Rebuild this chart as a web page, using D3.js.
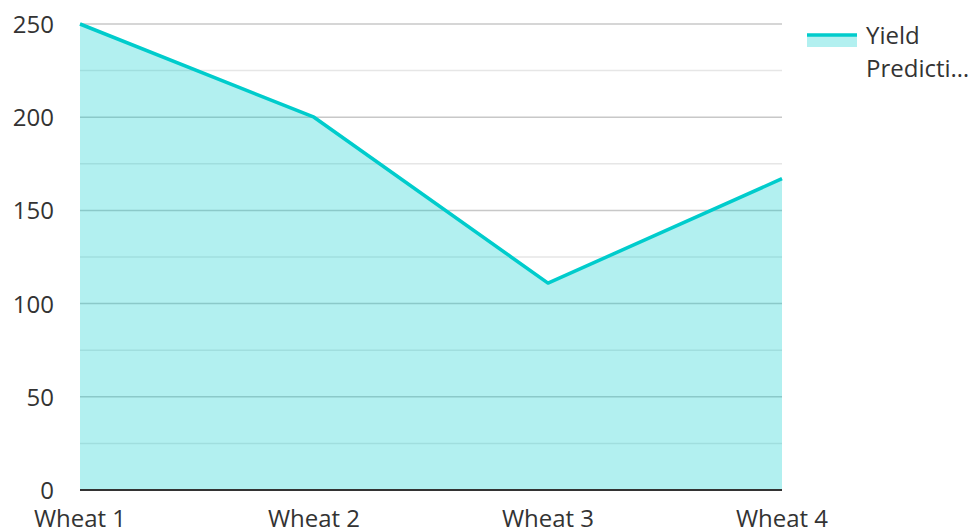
<!DOCTYPE html>
<html>
<head>
<meta charset="utf-8">
<script src="https://cdn.jsdelivr.net/npm/d3@7"></script>
<style>
  body { margin: 0; background: #fff; }
  text { font-family: "Open Sans", sans-serif; fill: #333; }
</style>
</head>
<body>
<div id="chart"></div>
<script>
// data
var categories = ["Wheat 1", "Wheat 2", "Wheat 3", "Wheat 4"];
var yieldValues = [250, 200, 111, 167];
var yTicks = [0, 50, 100, 150, 200, 250];
var minorTicks = [25, 75, 125, 175, 225];
var seriesName = "Yield Prediction";

var width = 974, height = 531;
var plotLeft = 80, plotRight = 782, plotTop = 24, plotBottom = 490;
var teal = "#00cccc";

var svg = d3.select("#chart").append("svg")
    .attr("width", width).attr("height", height);

var x = d3.scalePoint().domain(categories).range([plotLeft, plotRight]);
var y = d3.scaleLinear().domain([0, 250]).range([plotBottom, plotTop]);

// grid lines
svg.append("g").selectAll("line")
    .data(minorTicks)
    .enter().append("line")
    .attr("x1", plotLeft).attr("x2", plotRight)
    .attr("y1", function(d) { return y(d); })
    .attr("y2", function(d) { return y(d); })
    .style("stroke", "#e6e6e6").style("stroke-width", 1.5);

svg.append("g").selectAll("line")
    .data(yTicks.filter(function(d) { return d > 0; }))
    .enter().append("line")
    .attr("x1", plotLeft).attr("x2", plotRight)
    .attr("y1", function(d) { return y(d); })
    .attr("y2", function(d) { return y(d); })
    .style("stroke", "#c8c8c8").style("stroke-width", 1.5);

var pts = categories.map(function(c, i) { return { c: c, v: yieldValues[i] }; });

// area, semi transparent so the grid shows through
var area = d3.area()
    .x(function(d) { return x(d.c); })
    .y0(y(0))
    .y1(function(d) { return y(d.v); });

svg.append("path")
    .datum(pts)
    .attr("d", area)
    .style("fill", teal).style("fill-opacity", 0.3);

var line = d3.line()
    .x(function(d) { return x(d.c); })
    .y(function(d) { return y(d.v); });

svg.append("path")
    .datum(pts)
    .attr("d", line)
    .style("fill", "none").style("stroke", teal)
    .style("stroke-width", 3.5).style("stroke-linejoin", "round");

// x axis baseline
svg.append("line")
    .attr("x1", plotLeft).attr("x2", plotRight)
    .attr("y1", y(0)).attr("y2", y(0))
    .style("stroke", "#333").style("stroke-width", 2);

// y tick labels
svg.append("g").selectAll("text")
    .data(yTicks)
    .enter().append("text")
    .attr("x", 54)
    .attr("y", function(d) { return y(d) + 9; })
    .attr("text-anchor", "end")
    .style("font-size", "24px")
    .text(function(d) { return d; });

// x labels
svg.append("g").selectAll("text")
    .data(categories)
    .enter().append("text")
    .attr("x", function(d) { return x(d); })
    .attr("y", 527)
    .attr("text-anchor", "middle")
    .style("font-size", "24px")
    .text(function(d) { return d; });

// legend
var lg = svg.append("g").attr("transform", "translate(807,35)");
lg.append("rect")
    .attr("x", 0).attr("y", 0).attr("width", 50).attr("height", 12)
    .style("fill", teal).style("fill-opacity", 0.3);
lg.append("line")
    .attr("x1", 0).attr("x2", 50).attr("y1", 0).attr("y2", 0)
    .style("stroke", teal).style("stroke-width", 3.5);
var lt = lg.append("text")
    .attr("x", 59).attr("y", 9)
    .style("font-size", "24px");
lt.append("tspan").attr("x", 59).attr("dy", 0).text("Yield");
lt.append("tspan").attr("x", 59).attr("dy", 33).text("Predicti\u2026");
</script>
</body>
</html>
